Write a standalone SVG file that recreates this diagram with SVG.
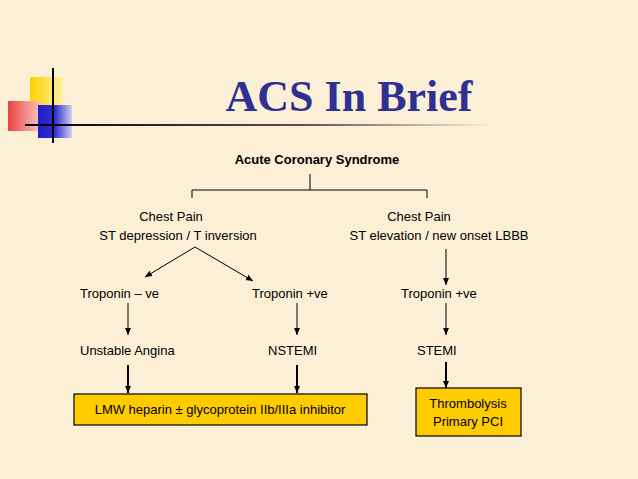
<svg xmlns="http://www.w3.org/2000/svg" width="638" height="479" viewBox="0 0 638 479">
<defs>
<marker id="ah" markerWidth="8" markerHeight="8" refX="7" refY="4" orient="auto" markerUnits="userSpaceOnUse"><path d="M0,1 L7,4 L0,7 Z" fill="#000"/></marker>
<linearGradient id="hl" x1="0" x2="1"><stop offset="0" stop-color="#000"/><stop offset="0.6" stop-color="#555"/><stop offset="1" stop-color="#faf0d8"/></linearGradient>
<linearGradient id="rd" x1="0" x2="1"><stop offset="0" stop-color="#e83030"/><stop offset="1" stop-color="#f8c0c0"/></linearGradient>
<linearGradient id="bl" x1="0" x2="1"><stop offset="0" stop-color="#2020c8"/><stop offset="0.5" stop-color="#3030d0"/><stop offset="1" stop-color="#d0d0f0"/></linearGradient>
<linearGradient id="yl" x1="0" x2="1"><stop offset="0" stop-color="#ffd000"/><stop offset="1" stop-color="#fff0a0"/></linearGradient>
</defs>
<style>
.t{font-family:"Liberation Sans",Arial,sans-serif;font-size:13px;fill:#000}
.c{stroke:#000;stroke-width:1;fill:none}
.k{stroke:#000;stroke-width:2;fill:none}
.bx{fill:#ffcc00;stroke:#000;stroke-width:1.2}
</style>
<rect width="638" height="479" fill="#fbefd5"/>
<g id="deco">
<rect x="30" y="77" width="33" height="33" fill="url(#yl)"/>
<rect x="8" y="101" width="32" height="30" fill="url(#rd)" opacity="0.9"/>
<rect x="38" y="105" width="34" height="33" fill="url(#bl)"/>
<rect x="25" y="124" width="465" height="2" fill="url(#hl)"/>
<rect x="52" y="68" width="2" height="75" fill="#000"/>
</g>
<text x="349" y="111" text-anchor="middle" font-family="'Liberation Serif','Times New Roman',serif" font-size="44" font-weight="bold" fill="#2e3192">ACS In Brief</text>
<g id="connectors">
<path class="c" d="M310,174 V190 M192,198 V190 H427 V198"/>
<path class="c" d="M195,247 L145,277" marker-end="url(#ah)"/>
<path class="c" d="M195,247 L253,281" marker-end="url(#ah)"/>
<path class="c" d="M446,249 V285" marker-end="url(#ah)"/>
<path class="c" d="M128,303 V335" marker-end="url(#ah)"/>
<path class="c" d="M297,303 V335" marker-end="url(#ah)"/>
<path class="c" d="M446,303 V335" marker-end="url(#ah)"/>
<path class="k" d="M128,365 V393" marker-end="url(#ah)"/>
<path class="k" d="M297,365 V393" marker-end="url(#ah)"/>
<path class="k" d="M446,362 V388" marker-end="url(#ah)"/>
</g>
<g id="acs"><text class="t" x="317" y="164" text-anchor="middle" font-weight="bold" font-size="14">Acute Coronary Syndrome</text></g>
<g id="left"><text class="t" x="171" y="221" text-anchor="middle">Chest Pain</text><text class="t" x="178" y="240" text-anchor="middle">ST depression / T inversion</text></g>
<g id="right"><text class="t" x="419" y="221" text-anchor="middle">Chest Pain</text><text class="t" x="439" y="240" text-anchor="middle">ST elevation / new onset LBBB</text></g>
<g id="tropneg"><text class="t" x="80" y="298">Troponin – ve</text></g>
<g id="troppos1"><text class="t" x="252" y="298">Troponin +ve</text></g>
<g id="troppos2"><text class="t" x="401" y="298">Troponin +ve</text></g>
<g id="ua"><text class="t" x="80" y="355">Unstable Angina</text></g>
<g id="nstemi"><text class="t" x="268" y="355">NSTEMI</text></g>
<g id="stemi"><text class="t" x="417" y="355">STEMI</text></g>
<g id="lmw"><rect class="bx" x="74" y="394" width="293" height="31"/><text class="t" x="220" y="414" text-anchor="middle">LMW heparin ± glycoprotein IIb/IIIa inhibitor</text></g>
<g id="thromb"><rect class="bx" x="416" y="388" width="105" height="48"/><text class="t" x="468" y="408" text-anchor="middle">Thrombolysis</text><text class="t" x="468" y="426" text-anchor="middle">Primary PCI</text></g>
</svg>
